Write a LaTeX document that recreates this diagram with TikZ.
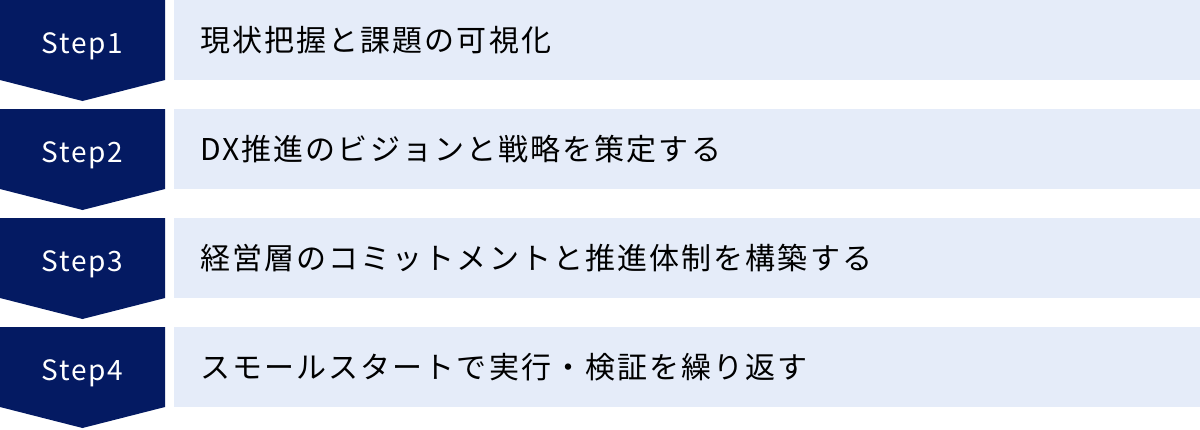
\documentclass[tikz,border=0pt]{standalone}
\usepackage{fontspec}
\newfontfamily\jpfont{Noto Sans CJK JP}[LetterSpace=7]
\newfontfamily\stepfont{Noto Sans CJK JP}[LetterSpace=6]
\definecolor{navy}{HTML}{041A62}
\definecolor{pale}{HTML}{E5ECF9}
\tikzset{
  stepshape/.style={fill=navy},
  barshape/.style={fill=pale},
  steplabel/.style={text=white, font=\stepfont\fontsize{28}{32}\selectfont, inner sep=0pt, anchor=base},
  desc/.style={text=black, font=\jpfont\fontsize{30}{34}\selectfont, inner sep=0pt, anchor=base west},
}
\begin{document}
\begin{tikzpicture}[x=1pt,y=-1pt]
\useasboundingbox (0,0) rectangle (1200,429);
\foreach \i/\txt in {1/現状把握と課題の可視化, 2/DX推進のビジョンと戦略を策定する, 3/経営層のコミットメントと推進体制を構築する, 4/スモールスタートで実行・検証を繰り返す}{
  \pgfmathsetmacro{\t}{109*(\i-1)}
  \fill[stepshape] (0,\t) -- (165,\t) -- (165,\t+80) -- (82.5,\t+101) -- (0,\t+80) -- cycle;
  \fill[barshape] (174,\t) rectangle (1200,\t+80);
  \node[steplabel] (s\i) at (82.5,\t+53) {Step\i};
  \node[desc] (d\i) at (200,\t+51) {\txt};
}
\end{tikzpicture}
\end{document}
